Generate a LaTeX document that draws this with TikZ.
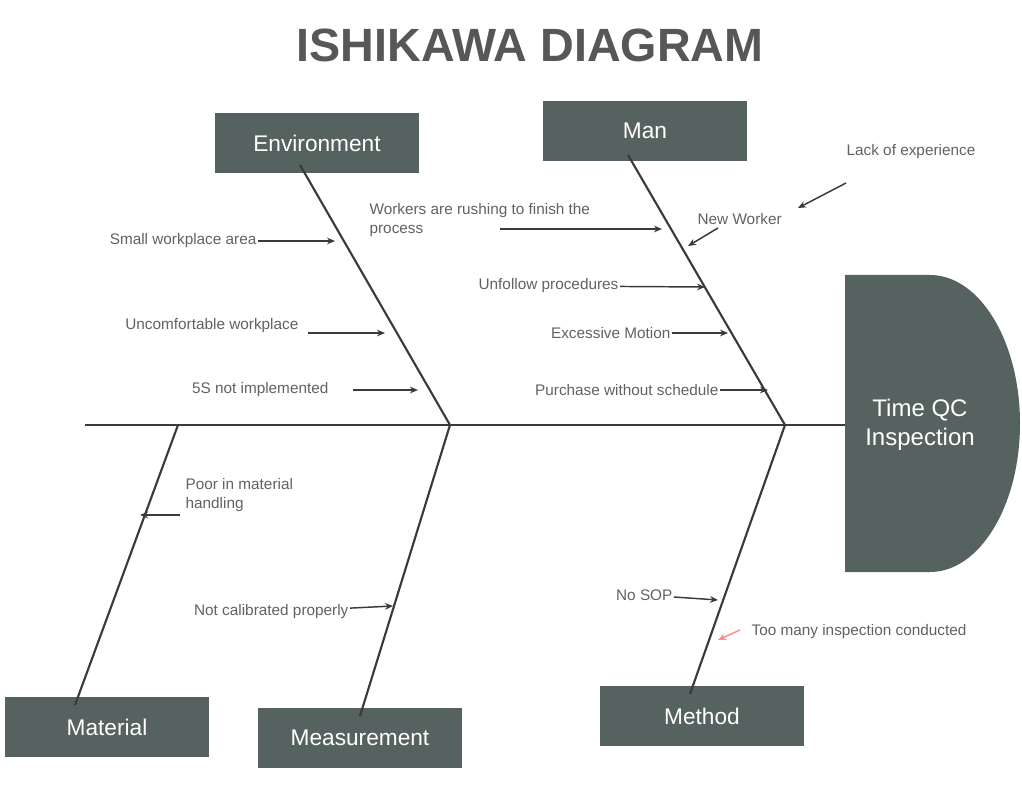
\documentclass[tikz,border=0pt]{standalone}
\usepackage{fontspec}
\setmainfont{Liberation Sans}
\usetikzlibrary{arrows.meta}
\definecolor{boxc}{HTML}{56625F}
\definecolor{linec}{HTML}{3A3A3A}
\tikzset{
 cat/.style={draw=boxc,fill=boxc,text=white,minimum width=152pt,minimum height=44pt,inner sep=0pt,font=\fontsize{17}{19}\selectfont},
 bone/.style={draw=linec,line width=1.6pt},
 lbl/.style={text=linec!80,font=\fontsize{11.5}{14}\selectfont,inner sep=1pt,align=left},
 arr/.style={draw=linec,line width=1.1pt,-{Stealth[length=6pt,width=5pt]}},
}
\begin{document}
\begin{tikzpicture}[x=0.75pt,y=-0.75pt]
\useasboundingbox (0,0) rectangle (1022,788);
\node[text=linec!85,font=\bfseries\fontsize{35}{38}\selectfont] (title) at (530,45) {ISHIKAWA DIAGRAM};
% head
\fill[boxc] (845,275) -- (930,275) arc[start angle=-90,end angle=90,x radius=90,y radius=148.5] -- (845,572) -- cycle;
\node[text=white,align=center,font=\fontsize{18}{22}\selectfont] (head) at (920,425) {Time QC\\Inspection};
\coordinate (tail) at (85,425);
\coordinate (hd) at (845,425);
\draw[bone] (tail) -- (hd);
\coordinate (j1) at (450,425);
\coordinate (j2) at (785,425);
\coordinate (j0) at (178,425);
% boxes
\node[cat] (env) at (317,143) {Environment};
\node[cat] (man) at (645,131) {Man};
\node[cat] (mat) at (107,727) {Material};
\node[cat] (meas) at (360,738) {Measurement};
\node[cat] (meth) at (702,716) {Method};
\draw[bone] (300,165) -- (j1);
\draw[bone] (628,155) -- (j2);
\draw[bone] (75,705) -- (j0);
\draw[bone] (360,716) -- (j1);
\draw[bone] (690,694) -- (j2);
% labels and arrows
\node[lbl,anchor=east] (a1) at (258,241) {Small workplace area};
\coordinate (a1e) at (335,241); \draw[arr] (a1) -- (a1e);
\node[lbl,anchor=west] (a2) at (368,220) {Workers are rushing to finish the\\process};
\coordinate (a2s) at (500,229); \coordinate (a2e) at (662,229); \draw[arr] (a2s) -- (a2e);
\node[lbl,anchor=west] (a3) at (845,152) {Lack of experience};
\coordinate (a3s) at (846,183); \coordinate (a3e) at (798,208); \draw[arr] (a3s) -- (a3e);
\node[lbl,anchor=west] (a4) at (696,219) {New Worker};
\coordinate (a4s) at (718,228); \coordinate (a4e) at (688,246); \draw[arr] (a4s) -- (a4e);
\node[lbl,anchor=east] (a5) at (620,286) {Unfollow procedures};
\coordinate (a5e) at (705,287); \draw[arr] (a5) -- (a5e);
\node[lbl,anchor=east] (a6) at (300,326) {Uncomfortable workplace};
\coordinate (a6s) at (308,333); \coordinate (a6e) at (385,333); \draw[arr] (a6s) -- (a6e);
\node[lbl,anchor=east] (a7) at (672,333) {Excessive Motion};
\coordinate (a7e) at (728,333); \draw[arr] (a7) -- (a7e);
\node[lbl,anchor=east] (a8) at (330,390) {5S not implemented};
\coordinate (a8s) at (353,390); \coordinate (a8e) at (418,390); \draw[arr] (a8s) -- (a8e);
\node[lbl,anchor=east] (a9) at (720,390) {Purchase without schedule};
\coordinate (a9e) at (768,390); \draw[arr] (a9) -- (a9e);
\node[lbl,anchor=west] (a10) at (184,495) {Poor in material\\handling};
\coordinate (a10s) at (180,515); \coordinate (a10e) at (140,515); \draw[arr] (a10s) -- (a10e);
\node[lbl,anchor=east] (a11) at (350,612) {Not calibrated properly};
\coordinate (a11e) at (393,606); \draw[arr] (a11) -- (a11e);
\node[lbl,anchor=east] (a12) at (674,595) {No SOP};
\coordinate (a12e) at (718,600); \draw[arr] (a12) -- (a12e);
\node[lbl,anchor=west] (a13) at (750,632) {Too many inspection conducted};
\coordinate (a13s) at (740,630); \coordinate (a13e) at (718,640);
\draw[arr,draw=red!45] (a13s) -- (a13e);
\end{tikzpicture}
\end{document}
